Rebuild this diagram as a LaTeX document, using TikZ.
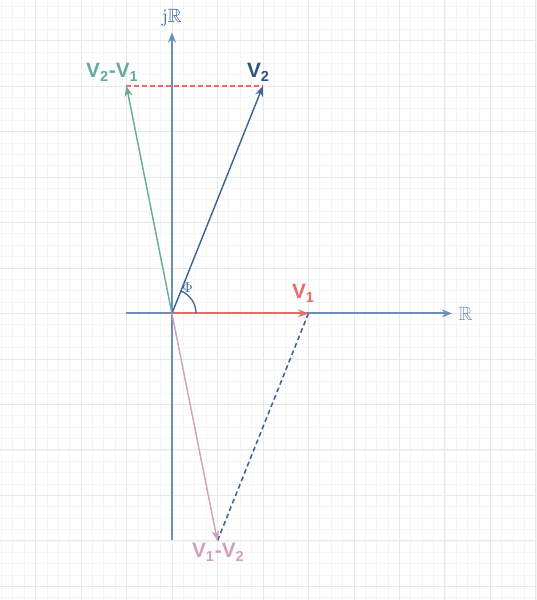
\documentclass[tikz,border=0pt]{standalone}
\usepackage{amssymb}
\usepackage{fontspec}
\setsansfont{Liberation Sans}
\usetikzlibrary{arrows.meta,angles}

\definecolor{axisblue}{HTML}{6C8EBF}
\definecolor{vtwoblue}{HTML}{3E6597}
\definecolor{vtwolabel}{HTML}{2F5283}
\definecolor{voned}{HTML}{EA6B66}
\definecolor{diffteal}{HTML}{67AB9F}
\definecolor{diffpink}{HTML}{CDA2BE}
\definecolor{gridminor}{HTML}{F5F5F5}
\definecolor{gridmajor}{HTML}{E8E8E8}

\tikzset{
  vec/.style={line width=0.9pt,-{Stealth[length=6.5pt,width=5pt]}},
  vlabel/.style={font=\sffamily\bfseries\fontsize{13}{15}\selectfont},
  helper/.style={line width=1.2pt, dash pattern=on 3pt off 2pt},
}

\begin{document}
\begin{tikzpicture}
      \useasboundingbox (-3.78,-6.30) rectangle (8.01,6.89);
      \draw[gridminor, line width=0.4pt, step=0.25] (-3.78,-6.30) grid (8.01,6.89);
      \draw[gridmajor, line width=0.5pt, step=1] (-3.78,-6.30) grid (8.01,6.89);

      \coordinate (O) at (0,0);
      \coordinate (Reneg) at (-1.02,0);
      \coordinate (Repos) at (6.16,0);
      \coordinate (Imneg) at (0,-4.99);
      \coordinate (Impos) at (0,6.18);
      \coordinate (Va) at (3,0);
      \coordinate (Vb) at (2,5);
      \coordinate (Vba) at (-1,5);
      \coordinate (Vab) at (1,-5);

      \draw[vec, axisblue, line width=1.3pt] (Reneg) -- (Repos) node[right, text=axisblue] (Re) {\large$\mathbb{R}$};
      \draw[vec, axisblue, line width=1.3pt] (Imneg) -- (Impos) node[above, text=vtwoblue] (Im) {\large$\mathrm{j}\mathbb{R}$};

      \draw[helper, draw=voned] (Vba) -- (Vb);
      \draw[helper, draw=vtwoblue, line width=1pt] (Va) -- (Vab);

      \draw[vec, voned, line width=1.3pt] (O) -- (Va);
      \draw[vec, vtwoblue] (O) -- (Vb);
      \draw[vec, diffteal] (O) -- (Vba);
      \draw[vec, diffpink] (O) -- (Vab);

      \pic[draw=vtwoblue, line width=0.8pt, angle radius=0.53cm] {angle = Va--O--Vb};
      \node[vtwoblue, font=\small] (phi) at (0.34,0.57) {$\Phi$};

      \node[vlabel, text=vtwolabel] (lVb) at (1.90,5.30) {V\textsubscript{2}};
      \node[vlabel, text=diffteal] (lVba) at (-1.31,5.30) {V\textsubscript{2}-V\textsubscript{1}};
      \node[vlabel, text=voned] (lVa) at (2.89,0.44) {V\textsubscript{1}};
      \node[vlabel, text=diffpink] (lVab) at (1.02,-5.25) {V\textsubscript{1}-V\textsubscript{2}};
    \end{tikzpicture}
\end{document}
